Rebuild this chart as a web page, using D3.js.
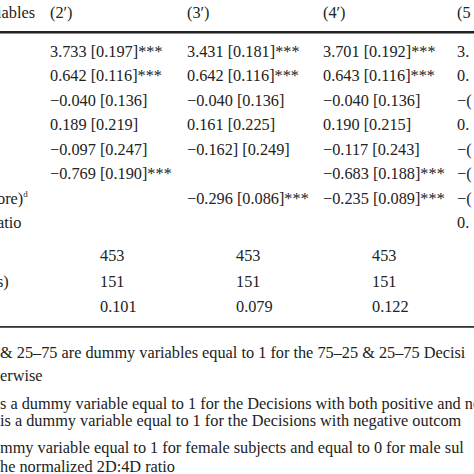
<!DOCTYPE html>
<html><head><meta charset="utf-8">
<script src="https://cdn.jsdelivr.net/npm/d3@7"></script>
<style>body{margin:0;background:#fff}svg text{font-family:"Liberation Serif","DejaVu Serif",serif;fill:#222}</style>
</head><body><svg id="c" width="474" height="474"></svg>
<script>
const headers = ["iables", "(2′)", "(3′)", "(4′)", "(5"];
const rowLabels = ["", "", "", "", "", "", "ore)", "atio"];
const col2 = ["3.733 [0.197]***", "0.642 [0.116]***", "−0.040 [0.136]", "0.189 [0.219]", "−0.097 [0.247]", "−0.769 [0.190]***", "", ""];
const col3 = ["3.431 [0.181]***", "0.642 [0.116]***", "−0.040 [0.136]", "0.161 [0.225]", "−0.162] [0.249]", "", "−0.296 [0.086]***", ""];
const col4 = ["3.701 [0.192]***", "0.643 [0.116]***", "−0.040 [0.136]", "0.190 [0.215]", "−0.117 [0.243]", "−0.683 [0.188]***", "−0.235 [0.089]***", ""];
const col5 = ["3.", "0.", "−(", "0.", "−(", "−(", "−(", "0."];
const statLabels = ["", "s)", ""];
const stat2 = ["453", "151", "0.101"];
const stat3 = ["453", "151", "0.079"];
const stat4 = ["453", "151", "0.122"];
const notes = [" & 25–75 are dummy variables equal to 1 for the 75–25 & 25–75 Decisi",
  "erwise",
  "s a dummy variable equal to 1 for the Decisions with both positive and ne",
  " is a dummy variable equal to 1 for the Decisions with negative outcom",
  "mmy variable equal to 1 for female subjects and equal to 0 for male sul",
  "he normalized 2D:4D ratio"];

const svg = d3.select("#c");
const fs = 16.3;
const colX = d3.scaleOrdinal().domain([0,1,2,3,4]).range([-3, 50, 187, 323, 457]);
const rowY = d3.scaleLinear().domain([0,7]).range([57, 228]);
const statY = d3.scaleLinear().domain([0,2]).range([261, 312]);

headers.forEach((h,i)=>svg.append("text").attr("x",colX(i)).attr("y",18).attr("font-size",fs).text(h));
svg.append("rect").attr("x",0).attr("y",31).attr("width",474).attr("height",2.5).attr("fill","#222");
[rowLabels, col2, col3, col4, col5].forEach((col,ci)=>{
  col.forEach((t,ri)=>{
    if(!t) return;
    const tx = svg.append("text").attr("x",colX(ci)).attr("y",rowY(ri)).attr("font-size",fs).text(t);
    if(ci===0 && ri===6) tx.append("tspan").attr("font-size",9).attr("dy",-7).text("d");
  });
});
const statX = d3.scaleOrdinal().domain([0,1,2,3]).range([-3,100,236,372]);
[statLabels, stat2, stat3, stat4].forEach((col,ci)=>col.forEach((t,ri)=>{
  if(t) svg.append("text").attr("x",statX(ci)).attr("y",statY(ri)).attr("font-size",fs).text(t);
}));
svg.append("rect").attr("x",0).attr("y",326).attr("width",474).attr("height",1.8).attr("fill","#333");
const noteY = [358, 381, 409, 426, 453, 472];
notes.forEach((t,i)=>svg.append("text").attr("x",0).attr("y",noteY[i]).attr("font-size",fs).attr("textLength", i===1||i===5?null:null).text(t));
</script></body></html>
